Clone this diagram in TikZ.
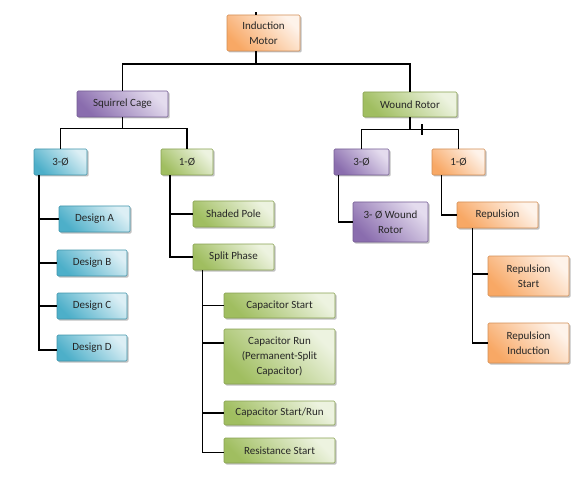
\documentclass[tikz,border=0pt]{standalone}
\usepackage{fontspec}
\setmainfont{Carlito}
\usetikzlibrary{shadows,calc}
\definecolor{orD}{HTML}{F8A865}
\definecolor{orL}{HTML}{FEF3EA}
\definecolor{puD}{HTML}{8A6DAE}
\definecolor{puL}{HTML}{E4DCEE}
\definecolor{blD}{HTML}{4DAFC9}
\definecolor{blL}{HTML}{DCEFF5}
\definecolor{grD}{HTML}{A0BE60}
\definecolor{grL}{HTML}{EDF3E0}
\tikzset{
  box/.style={rectangle, rounded corners=1.2pt, align=center, inner sep=1pt,
    font=\fontsize{11}{15}\selectfont, text=black!85, line width=0.6pt,
    drop shadow={shadow xshift=1.5pt, shadow yshift=-1.5pt, opacity=0.35, fill=black!70}},
  obox/.style={box, draw=orD!85!black, top color=orL, bottom color=orD, shading angle=-45},
  pbox/.style={box, draw=puD!85!black, top color=puL, bottom color=puD, shading angle=-45},
  bbox/.style={box, draw=blD!85!black, top color=blL, bottom color=blD, shading angle=-45},
  gbox/.style={box, draw=grD!85!black, top color=grL, bottom color=grD, shading angle=-45},
  conn/.style={draw=black, line width=1.3pt},
  thick conn/.style={draw=black, line width=1.8pt},
}
\begin{document}
\begin{tikzpicture}[x=1pt,y=-1pt]
\useasboundingbox (0,0) rectangle (580,478);
% nodes
\node[obox, minimum width=73pt, minimum height=36pt] (im) at (263.5,33) {Induction\\Motor};
\node[pbox, minimum width=91pt, minimum height=26pt] (sc) at (122.5,104) {Squirrel Cage};
\node[gbox, minimum width=94pt, minimum height=25pt] (wr) at (410,104.5) {Wound Rotor};
\node[bbox, minimum width=53pt, minimum height=26pt] (b3) at (60.5,162) {3-Ø};
\node[gbox, minimum width=52pt, minimum height=26pt] (g1) at (187,162) {1-Ø};
\node[pbox, minimum width=55pt, minimum height=26pt] (p3) at (361.5,162) {3-Ø};
\node[obox, minimum width=53pt, minimum height=26pt] (o1) at (458.5,162) {1-Ø};
\node[bbox, minimum width=71pt, minimum height=26pt] (da) at (94.5,219) {Design A};
\node[bbox, minimum width=70pt, minimum height=26pt] (db) at (92,263) {Design B};
\node[bbox, minimum width=70pt, minimum height=26pt] (dc) at (92,306) {Design C};
\node[bbox, minimum width=70pt, minimum height=26pt] (dd) at (92,348) {Design D};
\node[gbox, minimum width=81pt, minimum height=26pt] (sp) at (233.5,214) {Shaded Pole};
\node[gbox, minimum width=81pt, minimum height=26pt] (spl) at (233.5,257) {Split Phase};
\node[gbox, minimum width=111pt, minimum height=25pt] (cs) at (279.5,305.5) {Capacitor Start};
\node[gbox, minimum width=111pt, minimum height=55pt] (cr) at (279.5,356.5) {Capacitor Run\\(Permanent-Split\\Capacitor)};
\node[gbox, minimum width=111pt, minimum height=24pt] (csr) at (279.5,413) {Capacitor Start/Run};
\node[gbox, minimum width=111pt, minimum height=25pt] (rs) at (279.5,450.5) {Resistance Start};
\node[pbox, minimum width=75pt, minimum height=40pt] (wr3) at (390.5,222) {3- Ø Wound\\Rotor};
\node[obox, minimum width=81pt, minimum height=26pt] (rep) at (497.5,215) {Repulsion};
\node[obox, minimum width=81pt, minimum height=40pt] (rst) at (528.5,276) {Repulsion\\Start};
\node[obox, minimum width=81pt, minimum height=40pt] (rin) at (528.5,343) {Repulsion\\Induction};
% connectors
\draw[conn] ([xshift=-7.5pt]im.north) -- ++(0,-3);
\coordinate (bus) at ($([xshift=-7.5pt]im.south)+(0,13)$);
\draw[conn] ([xshift=-7.5pt]im.south) -- (bus);
\draw[thick conn] (sc.north) |- (bus) -| (wr.north);
\draw[conn] (sc.south) -- ++(0,11) coordinate (scj);
\draw[conn] (b3.north) |- (scj) -| (g1.north);
\draw[conn] (wr.south) -- ++(0,12) coordinate (wrj);
\draw[conn] (p3.north) |- (wrj) -| (o1.north);
\draw[line width=2pt] ($(wr.south)+(12,7)$) -- ++(0,11);
% 3-phase squirrel cage
\draw[thick conn] ([xshift=5pt]b3.south west) coordinate (bs) |- ([yshift=-2pt]dd.west);
\foreach \n in {da,db,dc} \draw[conn] (\n.west) -- (\n.west -| bs);
% 1-phase squirrel cage
\draw[thick conn] ([xshift=9pt]g1.south west) coordinate (gs) |- (spl.west);
\draw[conn] (sp.west) -- (sp.west -| gs);
\draw[conn] ([xshift=10pt]spl.south west) coordinate (ss) |- ([yshift=-2pt]rs.west);
\draw[conn] (cs.west) -- (cs.west -| ss);
\draw[conn] ([yshift=13.5pt]cr.west) -- ([yshift=13.5pt]cr.west -| ss);
\draw[conn] (csr.west) -- (csr.west -| ss);
% wound rotor
\draw[conn] ([xshift=5pt]p3.south west) |- (wr3.west);
\draw[conn] ([xshift=10pt]o1.south west) |- (rep.west);
\draw[conn] ([xshift=16pt]rep.south west) coordinate (rps) |- (rin.west);
\draw[thick conn] ([yshift=2pt]rst.west) -- ([yshift=2pt]rst.west -| rps);
\draw[thick conn] (rin.west) -- (rin.west -| rps);
\end{tikzpicture}
\end{document}
